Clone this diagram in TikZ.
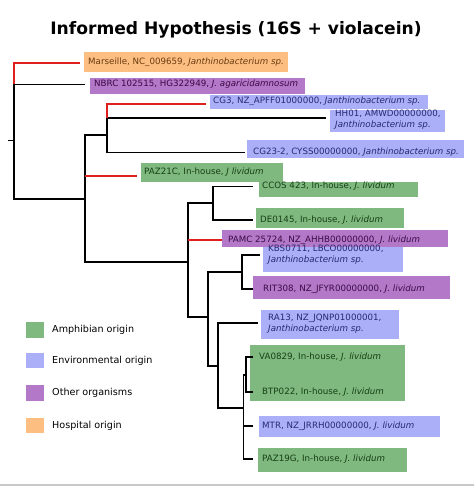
\documentclass[tikz,border=0pt]{standalone}
\usepackage{fontspec}
\setmainfont{DejaVu Sans}
\definecolor{amph}{HTML}{80B980}
\definecolor{envc}{HTML}{AAAFF8}
\definecolor{othc}{HTML}{B478C8}
\definecolor{hosp}{HTML}{FDBE82}
\definecolor{amphT}{HTML}{153F15}
\definecolor{envT}{HTML}{262A6E}
\definecolor{othT}{HTML}{3A0A46}
\definecolor{hospT}{HTML}{6A3C10}
\definecolor{treered}{HTML}{E0201E}
\definecolor{barc}{HTML}{C8C8C8}
\begin{document}
\begin{tikzpicture}[x=1pt,y=-1pt,
  tree/.style={draw=black, line width=1.8pt},
  redb/.style={draw=treered, line width=1.3pt},
  box/.style={anchor=north west, inner sep=0pt, draw=none},
  txt/.style={anchor=west, inner xsep=4pt, inner ysep=0pt, align=left,
    font=\fontsize{8.7}{11}\selectfont},
  legbox/.style={minimum width=18pt, minimum height=15.5pt, inner sep=0pt, draw=none},
  legtxt/.style={anchor=west, inner sep=0pt, font=\fontsize{9.6}{11}\selectfont}]
\useasboundingbox (0,0) rectangle (474,486);
\fill[barc] (0,484) rectangle (474,486);
% title
\node[anchor=base, inner sep=0pt, font=\fontsize{17.1}{20}\bfseries] (title) at (236,34.3)
  {Informed Hypothesis (16S + violacein)};
% boxes
\node[box, fill=hosp, minimum width=204pt, minimum height=20pt] (bMars) at (84,52) {};
\node[box, fill=othc, minimum width=215pt, minimum height=15.5pt] (bNBRC) at (90,78) {};
\node[box, fill=envc, minimum width=218pt, minimum height=14pt] (bCG3) at (210,95) {};
\node[box, fill=envc, minimum width=115pt, minimum height=22pt] (bHH) at (330,110) {};
\node[box, fill=envc, minimum width=217pt, minimum height=18pt] (bCG23) at (247,140) {};
\node[box, fill=amph, minimum width=142pt, minimum height=19pt] (bPAZ21) at (141,163) {};
\node[box, fill=amph, minimum width=159pt, minimum height=14.5pt] (bCCOS) at (259,182) {};
\node[box, fill=amph, minimum width=148pt, minimum height=20pt] (bDE) at (256,208) {};
\node[box, fill=othc, minimum width=226pt, minimum height=17pt] (bPAMC) at (222,230) {};
\node[box, fill=envc, minimum width=140pt, minimum height=25pt] (bKBS) at (263,247) {};
\node[box, fill=othc, minimum width=197pt, minimum height=23pt] (bRIT) at (253,276) {};
\node[box, fill=envc, minimum width=138pt, minimum height=29pt] (bRA) at (261,310) {};
\node[box, fill=amph, minimum width=155pt, minimum height=30pt] (bVA) at (250,345) {};
\node[box, fill=amph, minimum width=155pt, minimum height=26pt] (bBTP) at (250,375) {};
\node[box, fill=envc, minimum width=181pt, minimum height=21pt] (bMTR) at (259,416) {};
\node[box, fill=amph, minimum width=149pt, minimum height=24pt] (bPAZ19) at (258,448) {};
% texts
\node[txt, text=hospT] (tMars) at (84,62) {Marseille, NC\_009659, \textit{Janthinobacterium sp.}};
\node[txt, text=othT] (tNBRC) at (90,84.5) {NBRC 102515, HG322949, \textit{J. agaricidamnosum}};
\node[txt, text=envT] (tCG3) at (209,101) {CG3, NZ\_APFF01000000, \textit{Janthinobacterium sp.}};
\node[txt, text=envT] (tHH) at (331,119.5) {HH01, AMWD00000000,\\\textit{Janthinobacterium sp.}};
\node[txt, text=envT] (tCG23) at (249,152) {CG23-2, CYSS00000000, \textit{Janthinobacterium sp.}};
\node[txt, text=amphT] (tPAZ21) at (140,172) {PAZ21C, In-house, \textit{J lividum}};
\node[txt, text=amphT] (tCCOS) at (258,186.5) {CCOS 423, In-house, \textit{J. lividum}};
\node[txt, text=amphT] (tDE) at (256,220) {DE0145, In-house, \textit{J. lividum}};
\node[txt, text=othT] (tPAMC) at (224,240) {PAMC 25724, NZ\_AHHB00000000, \textit{J. lividum}};
\node[txt, text=envT] (tKBS) at (264,254.5) {KBS0711, LBCO00000000,\\\textit{Janthinobacterium sp.}};
\node[txt, text=othT] (tRIT) at (259,289) {RIT308, NZ\_JFYR00000000, \textit{J. lividum}};
\node[txt, text=envT] (tRA) at (264,323.5) {RA13, NZ\_JQNP01000001,\\\textit{Janthinobacterium sp.}};
\node[txt, text=amphT] (tVA) at (255,357) {VA0829, In-house, \textit{J. lividum}};
\node[txt, text=amphT] (tBTP) at (258,392) {BTP022, In-house, \textit{J. lividum}};
\node[txt, text=envT] (tMTR) at (258,426) {MTR, NZ\_JRRH00000000, \textit{J. lividum}};
\node[txt, text=amphT] (tPAZ19) at (258,459) {PAZ19G, In-house, \textit{J. lividum}};
% tree coordinates
\coordinate (rs) at (8,140.5);
\coordinate (r) at (14,140.5);
\coordinate (eMars) at (80,63);
\coordinate (eNBRC) at (85,84.5);
\coordinate (nA) at (85,199);
\coordinate (nCG) at (107,135);
\coordinate (eCG3) at (206,104);
\coordinate (eHH) at (326,118);
\coordinate (eCG23) at (245,152.5);
\coordinate (ePAZ21) at (137,176);
\coordinate (nB) at (188,262);
\coordinate (nC) at (213,203);
\coordinate (eCCOS) at (253,186.5);
\coordinate (eDE) at (253,220);
\coordinate (ePAMC) at (222,240);
\coordinate (nD) at (208,317);
\coordinate (nE) at (242,272);
\coordinate (eKBS) at (260,255);
\coordinate (eRIT) at (253,289);
\coordinate (nF) at (218,366);
\coordinate (eRA) at (258,323);
\coordinate (nG) at (243.5,408);
\coordinate (nH) at (246,375);
\coordinate (eVA) at (253,357);
\coordinate (eBTP) at (253,392);
\coordinate (eMTR) at (253,426);
\coordinate (ePAZ19) at (253,459);
% tree
\draw[tree] (rs) -- (r);
\draw[tree] (eNBRC) -| (r) |- (nA);
\draw[redb] (eMars) -| (r |- eNBRC);
\draw[tree] (nCG) -| (nA) |- (nB);
\draw[redb] (ePAZ21) -- (ePAZ21 -| nA);
\draw[tree] (eHH) -| (nCG) |- (eCG23);
\draw[redb] (eCG3) -| (nCG |- eHH);
\draw[tree] (nC) -| (nB) |- (nD);
\draw[redb] (ePAMC) -- (ePAMC -| nB);
\draw[tree] (eCCOS) -| (nC) |- (eDE);
\draw[tree] (nE) -| (nD) |- (nF);
\draw[tree] (eKBS) -| (nE) |- (eRIT);
\draw[tree] (eRA) -| (nF) |- (nG);
\draw[tree] (nH) -| (nG) |- (ePAZ19);
\draw[tree] (eMTR) -- (eMTR -| nG);
\draw[tree] (eVA) -| (nH) |- (eBTP);
% legend
\node[legbox, fill=amph] (kAmph) at (35,330) {};
\node[legbox, fill=envc] (kEnv) at (35,360.5) {};
\node[legbox, fill=othc] (kOth) at (35,393) {};
\node[legbox, fill=hosp] (kHosp) at (35,425.5) {};
\node[legtxt] (lAmph) at (52,330) {Amphibian origin};
\node[legtxt] (lEnv) at (52,361) {Environmental origin};
\node[legtxt] (lOth) at (52,393) {Other organisms};
\node[legtxt] (lHosp) at (52,426) {Hospital origin};
\end{tikzpicture}
\end{document}
